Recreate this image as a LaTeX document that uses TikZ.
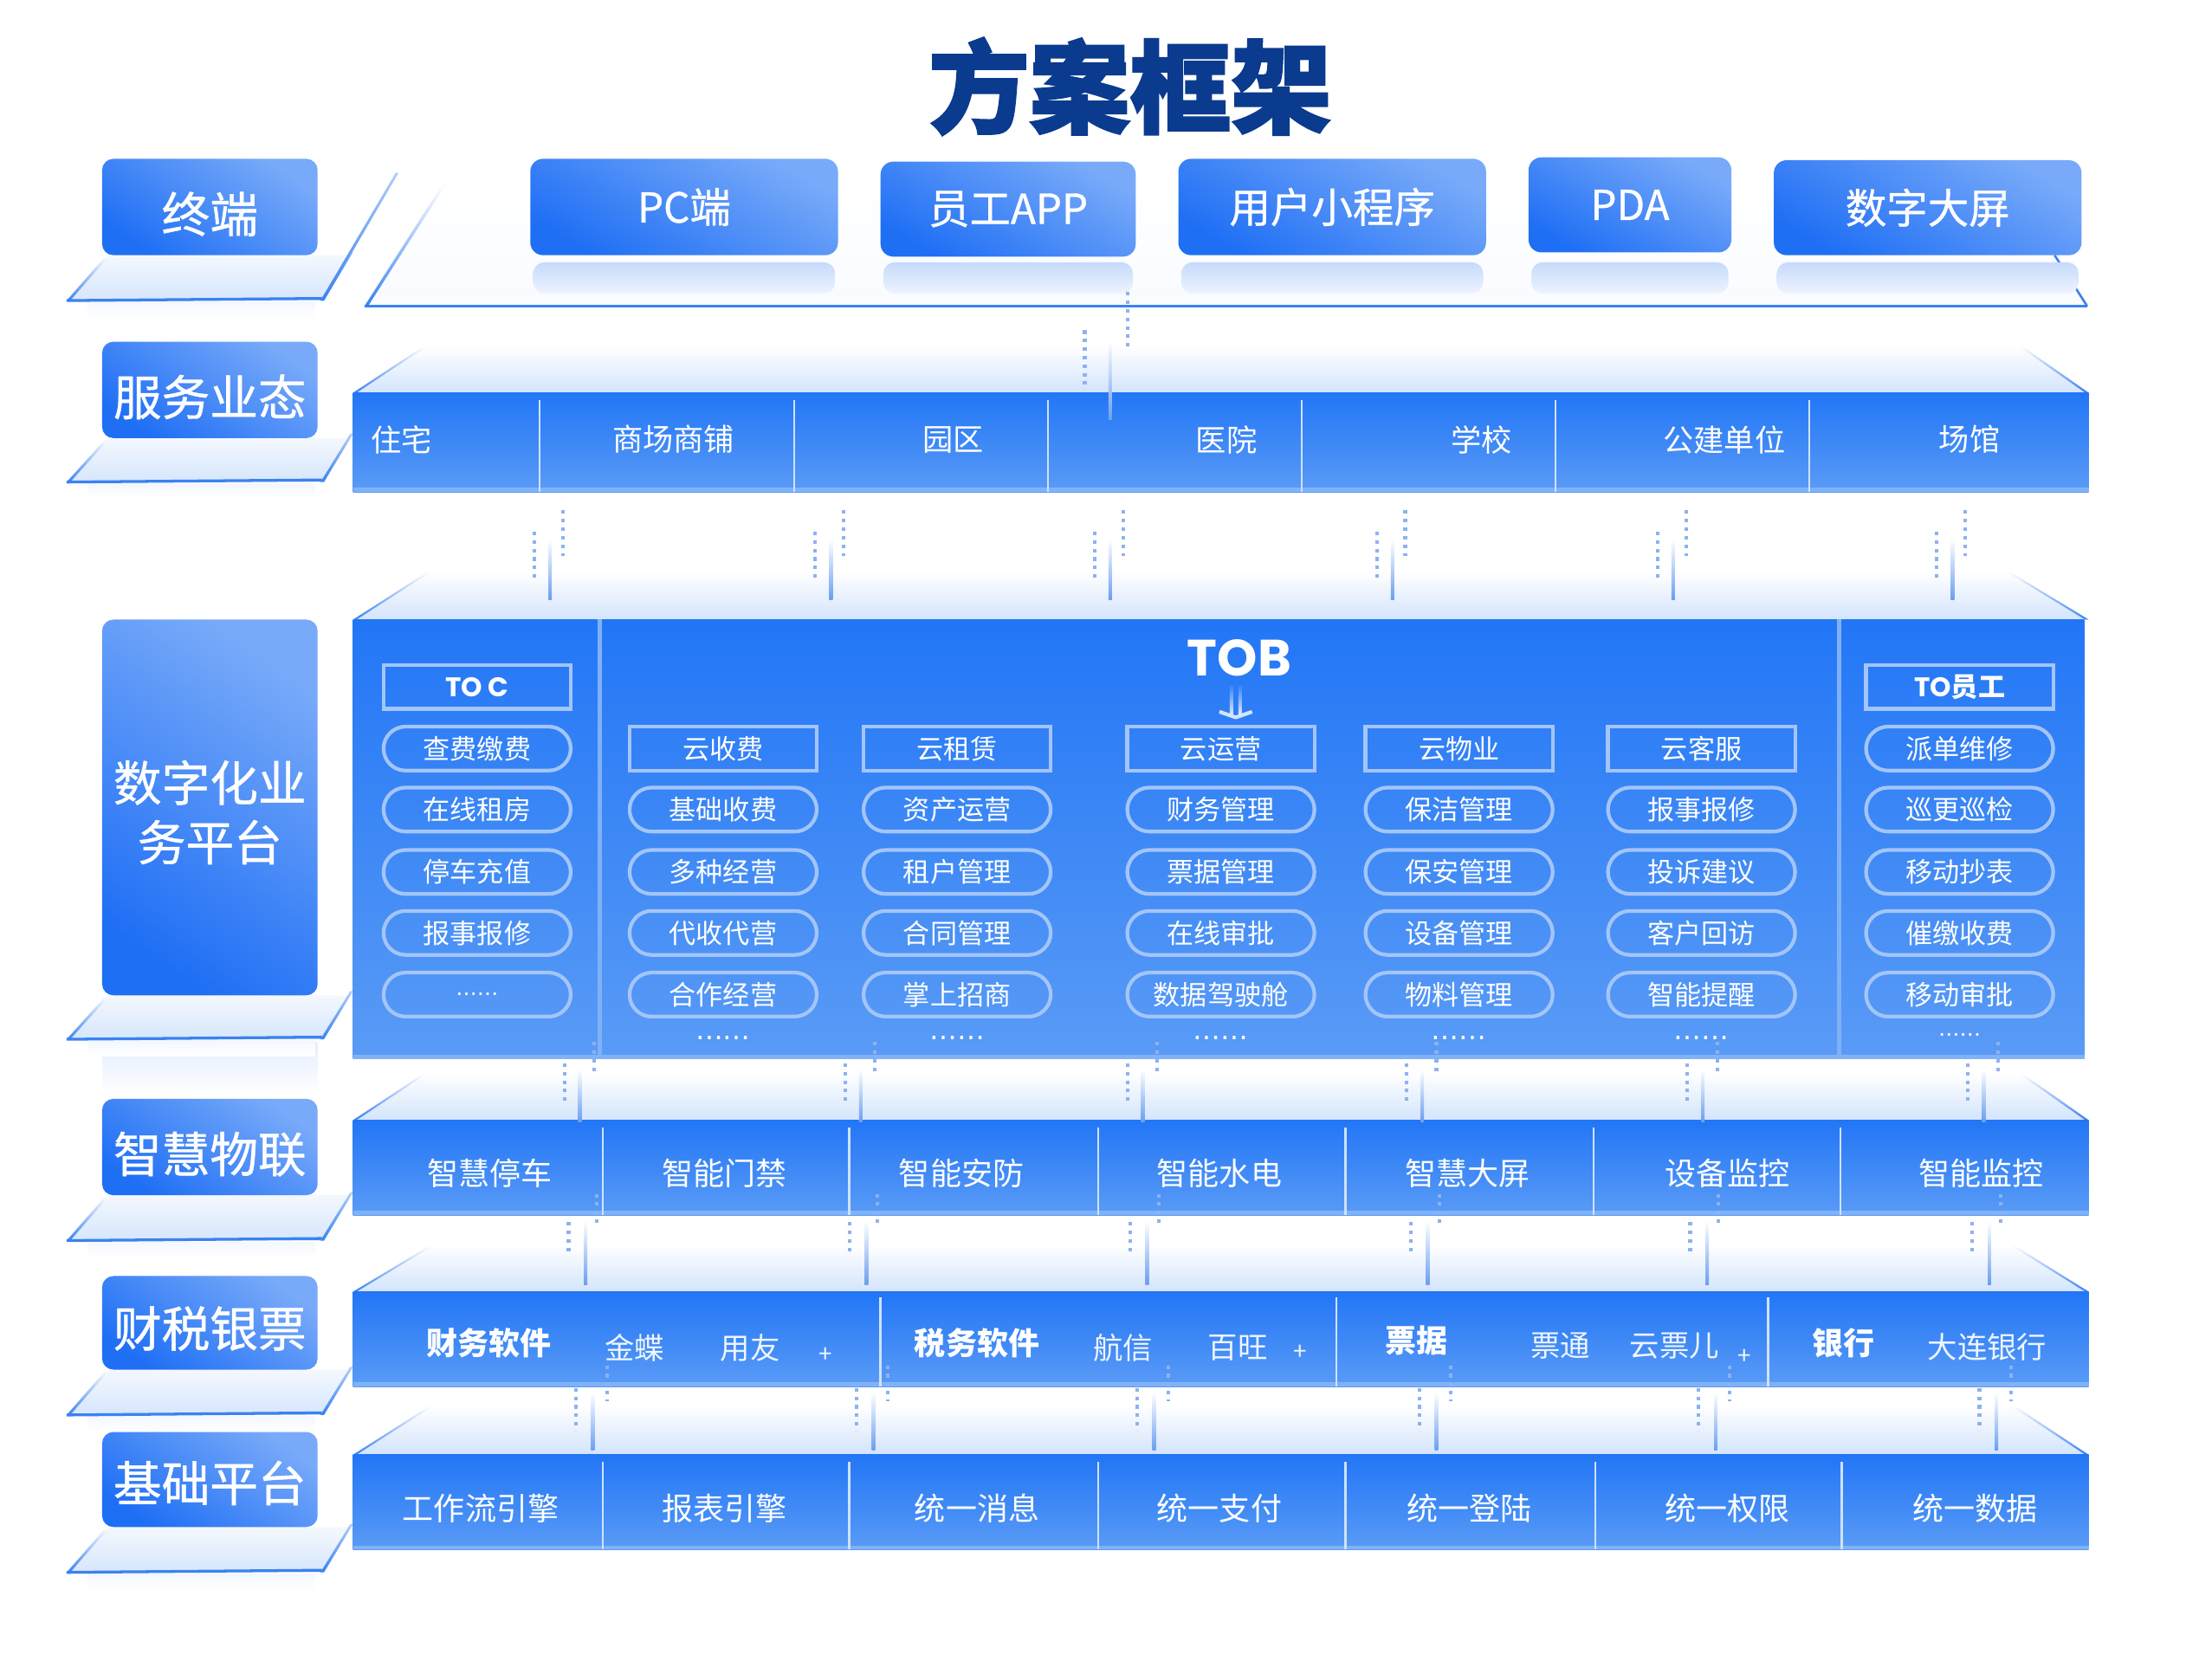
\documentclass[tikz,border=0pt]{standalone}
\usepackage{fontspec}
\newfontfamily\cjk{Noto Sans CJK SC}
\newfontfamily\cjkmed{Noto Sans CJK SC}[FakeBold=0.8]
\newfontfamily\titlefont{Noto Sans CJK SC}[BoldFeatures={FakeBold=2}]
\newfontfamily\pop{Poppins}
\newfontfamily\dv{DejaVu Sans}
\usetikzlibrary{shadings}
\definecolor{titlec}{HTML}{0A3B8E}
\definecolor{bartop}{HTML}{2276F6}
\definecolor{barbot}{HTML}{5A9BF6}
\definecolor{barstrip}{HTML}{80B2F7}
\definecolor{lbltop}{HTML}{78AAF9}
\definecolor{lblbot}{HTML}{1F6FF5}
\definecolor{floorc}{HTML}{D3E4FC}
\definecolor{plattop}{HTML}{F4F8FE}
\definecolor{platbot}{HTML}{D6E6FC}
\definecolor{edgec}{HTML}{3A82F0}
\definecolor{pillc}{HTML}{A3C5FA}
\definecolor{divc}{HTML}{CFE2FD}
\definecolor{pdivc}{HTML}{80B1F6}
\definecolor{dotc}{HTML}{8DB2EF}
\definecolor{solidc}{HTML}{6A9EF0}
\definecolor{reflc}{HTML}{C6DAFB}
\newcommand\fsz[1]{\fontsize{#1}{#1}\selectfont}
\tikzset{
 lblbox/.style={rectangle, rounded corners=8pt, top color=lbltop, bottom color=lblbot, shading angle=-35, inner sep=0pt, minimum width=152pt},
 lbltext/.style={text=white, font=\cjkmed\fsz{34}, inner sep=0pt, align=center},
 termbox/.style={rectangle, rounded corners=9pt, top color=lbltop, bottom color=lblbot, shading angle=-30, inner sep=0pt, text=white, font=\cjkmed\fsz{29}},
 celltext/.style={text=white, font=\cjk\fsz{22}, inner sep=0pt},
 svctext/.style={text=white, font=\cjk\fsz{21.5}, inner sep=0pt},
 boldtext/.style={text=white, font=\cjk\bfseries\fsz{22}, inner sep=0pt},
 lighttext/.style={text=white!90!barbot, font=\cjk\fsz{21}, inner sep=0pt},
 plustext/.style={text=white!90!barbot, font=\cjk\fsz{17}, inner sep=0pt},
 pillbox/.style={draw=pillc, line width=2.6pt, rounded corners=15.5pt, minimum width=132pt, minimum height=31pt, inner sep=0pt, text=white, font=\cjk\fsz{19}},
 hdrbox/.style={draw=pillc, line width=2.6pt, minimum width=132pt, minimum height=31pt, inner sep=0pt, text=white, font=\cjk\fsz{19}},
 ellip/.style={text=white, font=\dv\fsz{19.5}, inner sep=0pt, anchor=base},
 ellipsmall/.style={text=white, font=\dv\fsz{15}, inner sep=0pt, anchor=base},
 divline/.style={draw=divc, line width=1.5pt},
 dotline/.style={draw=dotc, line width=2.5pt, dash pattern=on 2.5pt off 3.5pt},
 edgeline/.style={draw=edgec, line width=2pt},
}
% bar: ytop, ybot
\newcommand\mkbar[2]{%
 \shade[top color=bartop, bottom color=barbot] (249,#1) rectangle (1473,#2);
 \fill[barstrip] (249,#2-3) rectangle (1473,#2);
}
% floor: ybot, ytop, x left top, x right top
\newcommand\mkfloor[4]{%
 \shade[top color=white, bottom color=floorc] (249,#1) -- (#3,#2) -- (#4,#2) -- (1473,#1) -- cycle;
 \shade[top color=white, bottom color=edgec] (249,#1) -- (#3,#2) -- (#3+2.5,#2) -- (251.5,#1) -- cycle;
 \shade[top color=white, bottom color=edgec] (1473,#1) -- (#4,#2) -- (#4-2.5,#2) -- (1470.5,#1) -- cycle;
}
% left label platform: ybox bottom, y platform bottom
\newcommand\mkplat[2]{%
 \shade[top color=white!94!edgec, bottom color=white] (62,#2+1) rectangle (222,#2+12);
 \shade[top color=plattop, bottom color=platbot] (47,#2) -- (75,#1) -- (247,#1) -- (227,#2) -- cycle;
 \shade[top color=white, bottom color=edgec] (47,#2) -- (75,#1) -- (77.5,#1) -- (49.5,#2) -- cycle;
 \shade[top color=white!60!edgec, bottom color=edgec] (226,#2) -- (247,#2-34) -- (249,#2-34) -- (228.5,#2) -- cycle;
 \draw[edgeline] (47,#2) -- (227,#2-1.5);
}
% connector: xs, xl, xr, rd1, rd2, ld1, ld2, s1, s2
\newcommand\conn[9]{%
 \draw[dotline] (#2,#6) -- (#2,#7);
 \draw[dotline] (#3,#4) -- (#3,#5);
 \shade[top color=white, bottom color=solidc] (#1-1.2,#8) rectangle (#1+1.2,#9);
}
% TOB column: name, x, header, four items
\newcommand\tobcol[7]{%
 \node[hdrbox] (#1h) at (#2,528) {#3};
 \node[pillbox] (#1a) at (#2,571) {#4};
 \node[pillbox] (#1b) at (#2,615) {#5};
 \node[pillbox] (#1c) at (#2,658) {#6};
 \node[pillbox] (#1d) at (#2,701.5) {#7};
 \node[ellip] (#1e) at (#2,733.3) {……};
}
\begin{document}
\begin{tikzpicture}[x=1pt,y=-1pt]
\useasboundingbox (0,0) rectangle (1560,1171.5);
\fill[white] (0,0) rectangle (1560,1171.5);

% ---------- title
\node[font=\titlefont\bfseries\fsz{71}, text=titlec, inner sep=0pt] (title) at (797,61) {方案框架};

% ---------- left labels
\mkplat{180}{212}
\shade[top color=white!60!edgec, bottom color=edgec] (226,212) -- (279,122) -- (281,122) -- (228.5,212) -- cycle;
\node[lblbox, minimum height=68pt] (l1) at (148,146) {};
\node[lbltext] (l1t) at (148,151) {终端};

\mkplat{309}{340}
\node[lblbox, minimum height=68pt] (l2) at (148,275) {};
\node[lbltext] (l2t) at (148,280) {服务业态};

\shade[top color=white!86!edgec, bottom color=white] (72,735) rectangle (224,772);
\mkplat{702}{733}
\node[lblbox, minimum height=265pt] (l3) at (148,569.5) {};
\node[lbltext] (l3t) at (148,552) {数字化业};
\node[lbltext] (l3u) at (148,594) {务平台};

\mkplat{843}{875}
\node[lblbox, minimum height=68pt] (l4) at (148,809) {};
\node[lbltext] (l4t) at (148,814) {智慧物联};

\mkplat{966}{998}
\node[lblbox, minimum height=66pt] (l5) at (148,933) {};
\node[lbltext] (l5t) at (148,937) {财税银票};

\mkplat{1077}{1109}
\node[lblbox, minimum height=67pt] (l6) at (148,1043.5) {};
\node[lbltext] (l6t) at (148,1046) {基础平台};

% ---------- terminal row
\shade[top color=white, bottom color=white!85!floorc] (257,216) -- (312,130) -- (1440,130) -- (1449,180) -- (1472,216) -- cycle;
\shade[top color=white, bottom color=edgec] (257,216) -- (312,130) -- (314.5,130) -- (259.5,216) -- cycle;
\draw[edgec, line width=1.6pt] (1472,216) -- (1449,180);
\draw[edgeline] (257,216) -- (1472,216);
\foreach \a/\b in {374/591,621/801,831/1048,1078/1221,1251/1468}
  {\shade[top color=reflc, bottom color=white!70!reflc, rounded corners=8pt] (\a+2,185) rectangle (\b-2,207);}
\node[termbox, minimum width=217pt, minimum height=68pt] (t1) at (482.5,146) {PC端};
\node[termbox, minimum width=180pt, minimum height=67pt] (t2) at (711,147.5) {员工APP};
\node[termbox, minimum width=217pt, minimum height=68pt] (t3) at (939.5,146) {用户小程序};
\node[termbox, minimum width=143pt, minimum height=67pt] (t4) at (1149.5,144.5) {PDA};
\node[termbox, minimum width=217pt, minimum height=67pt] (t5) at (1359.5,146.5) {数字大屏};

% ---------- service row
\mkfloor{277}{244}{299}{1426}
\mkbar{277}{347}
\foreach \x in {380.5,560,739,918,1097,1276} {\draw[divline] (\x,282) -- (\x,347);}
\node[svctext] (s1) at (283,310) {住宅};
\node[svctext] (s2) at (475,310) {商场商铺};
\node[svctext] (s3) at (672,310) {园区};
\node[svctext] (s4) at (865,310) {医院};
\node[svctext] (s5) at (1045,310) {学校};
\node[svctext] (s6) at (1216,310) {公建单位};
\node[svctext] (s7) at (1389,310) {场馆};
\conn{783}{765}{795}{206}{247}{233}{275}{240}{296}

% ---------- platform
\mkfloor{437}{403}{302}{1417}
\shade[top color=bartop, bottom color=barbot] (249,437) rectangle (1470,747);
\fill[barstrip] (249,744) rectangle (1470,747);
\draw[pdivc, line width=3pt] (423,437) -- (423,747);
\draw[pdivc, line width=3pt] (1297,437) -- (1297,747);

\node[hdrbox, font=\pop\bfseries\fsz{19}] (toch) at (336.5,484.5) {TO C};
\node[pillbox] (toca) at (336.5,528) {查费缴费};
\node[pillbox] (tocb) at (336.5,571) {在线租房};
\node[pillbox] (tocc) at (336.5,615) {停车充值};
\node[pillbox] (tocd) at (336.5,658) {报事报修};
\node[pillbox] (toce) at (336.5,701.5) {};
\node[ellipsmall] (tocf) at (336.5,702.2) {……};

\node[text=white, font=\pop\bfseries\fsz{36}, inner sep=0pt] (tob) at (874,464) {TOB};
\shade[top color=bartop, bottom color=white!85!bartop] (867.3,481) rectangle (869.7,504);
\shade[top color=bartop, bottom color=white!85!bartop] (873.4,481) rectangle (875.8,504);
\draw[white!80!bartop, line width=2.6pt, line join=round] (860,502) -- (871.5,506) -- (883,502);

\tobcol{sf}{510}{云收费}{基础收费}{多种经营}{代收代营}{合作经营}
\tobcol{zl}{675}{云租赁}{资产运营}{租户管理}{合同管理}{掌上招商}
\tobcol{yy}{861}{云运营}{财务管理}{票据管理}{在线审批}{数据驾驶舱}
\tobcol{wy}{1029}{云物业}{保洁管理}{保安管理}{设备管理}{物料管理}
\tobcol{kf}{1200}{云客服}{报事报修}{投诉建议}{客户回访}{智能提醒}

\node[hdrbox, font=\cjk\bfseries\fsz{19}] (ygh) at (1382,484.5) {{\pop\bfseries TO}员工};
\node[pillbox] (yga) at (1382,528) {派单维修};
\node[pillbox] (ygb) at (1382,571) {巡更巡检};
\node[pillbox] (ygc) at (1382,615) {移动抄表};
\node[pillbox] (ygd) at (1382,658) {催缴收费};
\node[pillbox] (yge) at (1382,701.5) {移动审批};
\node[ellipsmall] (ygf) at (1382,731) {……};

\foreach \x in {388,586,783,982,1180,1377}
  {\conn{\x}{\x-11}{\x+9}{360}{392}{375}{408}{380}{423}}

% ---------- IoT row
\mkfloor{790}{757}{299}{1426}
\mkbar{790}{857}
\foreach \x in {425,599,774.5,949,1124,1298} {\draw[divline] (\x,795) -- (\x,857);}
\node[celltext] (i1) at (345.5,827.5) {智慧停车};
\node[celltext] (i2) at (511,827.5) {智能门禁};
\node[celltext] (i3) at (678,827.5) {智能安防};
\node[celltext] (i4) at (860,827.5) {智能水电};
\node[celltext] (i5) at (1035,827.5) {智慧大屏};
\node[celltext] (i6) at (1218,827.5) {设备监控};
\node[celltext] (i7) at (1397,827.5) {智能监控};
\foreach \x in {409,607,806,1003,1201,1399}
  {\conn{\x}{\x-11}{\x+10}{735}{757}{750}{777}{754}{791}}

% ---------- finance row
\mkfloor{911}{878}{304}{1420}
\mkbar{911}{978}
\foreach \x in {621,942.5,1247} {\draw[divline] (\x,915) -- (\x,978);}
\node[boldtext] (f1) at (345,947) {财务软件};
\node[lighttext] (f1a) at (447.5,950.5) {金蝶};
\node[lighttext] (f1b) at (529,950.5) {用友};
\node[plustext] (f1c) at (582,956) {+};
\node[boldtext] (f2) at (689,947) {税务软件};
\node[lighttext] (f2a) at (792,950.5) {航信};
\node[lighttext] (f2b) at (873,950.5) {百旺};
\node[plustext] (f2c) at (917,954) {+};
\node[boldtext] (f3) at (999,945.5) {票据};
\node[lighttext] (f3a) at (1100.5,949) {票通};
\node[lighttext] (f3b) at (1181,949) {云票儿};
\node[plustext] (f3c) at (1230,957) {+};
\node[boldtext] (f4) at (1300,947) {银行};
\node[lighttext] (f4a) at (1401.5,950) {大连银行};
\foreach \x in {413,611,809,1007,1204,1403}
  {\conn{\x}{\x-12}{\x+8}{842}{864}{862}{885}{861}{906}}

% ---------- base row
\mkfloor{1026}{991}{304}{1420}
\mkbar{1026}{1093}
\foreach \x in {425,599,774.5,949,1125,1299} {\draw[divline] (\x,1031) -- (\x,1093);}
\node[celltext] (b1) at (339,1064) {工作流引擎};
\node[celltext] (b2) at (511,1064) {报表引擎};
\node[celltext] (b3) at (689,1064) {统一消息};
\node[celltext] (b4) at (860,1064) {统一支付};
\node[celltext] (b5) at (1036,1064) {统一登陆};
\node[celltext] (b6) at (1218,1064) {统一权限};
\node[celltext] (b7) at (1393,1064) {统一数据};
\foreach \x in {418,616,814,1013,1210,1408}
  {\conn{\x}{\x-12}{\x+10}{963}{988}{979}{1009}{982}{1023}}
\end{tikzpicture}
\end{document}
